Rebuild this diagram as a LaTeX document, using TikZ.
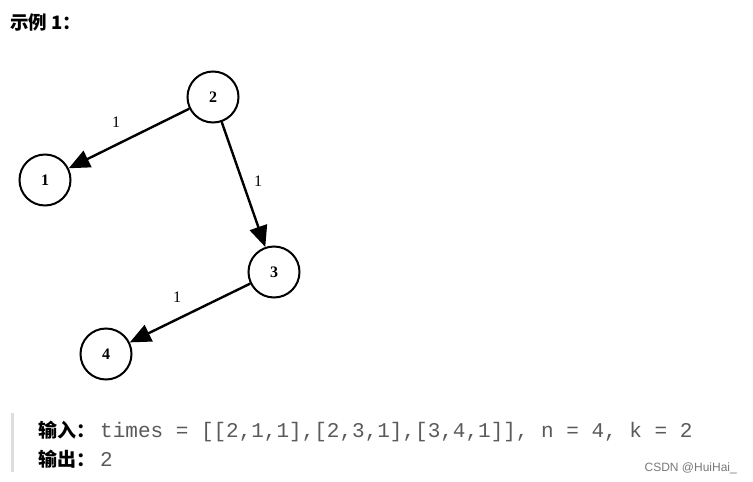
\documentclass[tikz,border=0pt]{standalone}
\usepackage{fontspec}
\setmainfont{Liberation Serif}
\newfontfamily\cjk{Noto Sans CJK SC}
\newfontfamily\monof{Liberation Mono}
\newfontfamily\sansf{Liberation Sans}
\usetikzlibrary{arrows.meta}
\definecolor{codegray}{RGB}{90,90,90}
\definecolor{bargray}{RGB}{221,221,221}
\definecolor{marktext}{RGB}{120,120,120}
\tikzset{
  vtx/.style={circle,draw,line width=2pt,minimum size=51pt,inner sep=0pt,font=\fontsize{16}{16}\selectfont\bfseries},
  edge/.style={line width=2.4pt,-{Triangle[length=21pt,width=18pt]},shorten >=0pt},
  wlabel/.style={font=\fontsize{16}{16}\selectfont}
}
\begin{document}
\begin{tikzpicture}[x=1pt,y=-1pt]
\useasboundingbox[fill=white] (0,0) rectangle (753,482);
\node[anchor=west,inner sep=0pt,font=\cjk\bfseries\fontsize{18.5}{18.5}\selectfont] (title) at (10,22) {示例 1：};
\node[vtx] (n2) at (213,97) {2};
\node[vtx] (n1) at (45,180) {1};
\node[vtx] (n3) at (274,272) {3};
\node[vtx] (n4) at (106,354) {4};
\draw[edge] (n2) -- (n1);
\draw[edge] (n2) -- (n3);
\draw[edge] (n3) -- (n4);
\node[wlabel] (l1) at (116,122) {1};
\node[wlabel] (l2) at (258,181) {1};
\node[wlabel] (l3) at (177,297) {1};
\fill[bargray] (11,413) rectangle (14,472);
\node[anchor=base west,inner sep=0pt,font=\cjk\bfseries\fontsize{19}{19}\selectfont] (in) at (38,437) {输入：};
\node[anchor=base west,inner sep=0pt,font=\monof\fontsize{21}{21}\selectfont,text=codegray] (inv) at (100,437) {times = [[2,1,1],[2,3,1],[3,4,1]], n = 4, k = 2};
\node[anchor=base west,inner sep=0pt,font=\cjk\bfseries\fontsize{19}{19}\selectfont] (out) at (38,466) {输出：};
\node[anchor=base west,inner sep=0pt,font=\monof\fontsize{21}{21}\selectfont,text=codegray] (outv) at (100,466) {2};
\node[anchor=base east,inner sep=0pt,font=\sansf\fontsize{12}{12}\selectfont,text=marktext] (wm) at (737,471) {CSDN @HuiHai\_};
\end{tikzpicture}
\end{document}
